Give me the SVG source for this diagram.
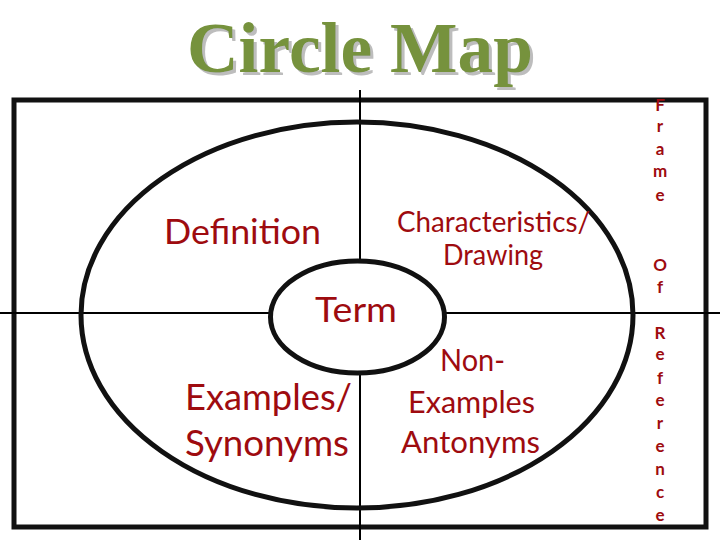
<svg xmlns="http://www.w3.org/2000/svg" width="720" height="540" viewBox="0 0 720 540">
<defs>
<filter id="shadow" x="-5%" y="-20%" width="115%" height="150%">
<feDropShadow dx="3" dy="3" stdDeviation="0.6" flood-color="#bdbdbd" flood-opacity="1"/>
</filter>
</defs>
<style>
.lbl{font-family:Lato,"Open Sans","Liberation Sans",sans-serif;fill:#9e0b0f;}
.side{font-family:Lato,"Open Sans","Liberation Sans",sans-serif;fill:#9e0b0f;font-weight:bold;font-size:17px;text-anchor:middle;}
.ring{fill:none;stroke:#111;stroke-width:5;}
.axis{stroke:#000;stroke-width:2;fill:none;}
.title{font-family:"Liberation Serif","Times New Roman",serif;font-weight:bold;font-size:72px;}
</style>
<rect width="720" height="540" fill="#ffffff"/>
<g id="title">
<text class="title" x="187" y="72" fill="#76923c" filter="url(#shadow)" textLength="346" lengthAdjust="spacingAndGlyphs">Circle Map</text>
</g>
<g id="frame">
<rect x="14" y="100" width="692" height="427" fill="none" stroke="#111" stroke-width="5"/>
</g>
<g id="connectors">
<line class="axis" x1="360" y1="90" x2="360" y2="540"/>
<line class="axis" x1="0" y1="313" x2="720" y2="313"/>
</g>
<g id="outer-circle">
<ellipse class="ring" cx="357" cy="315" rx="276" ry="193"/>
</g>
<g id="term">
<ellipse cx="357.5" cy="317" rx="87" ry="56" fill="#ffffff" stroke="#111" stroke-width="5"/>
<text class="lbl" x="315" y="322" font-size="35" textLength="82" lengthAdjust="spacingAndGlyphs">Term</text>
</g>
<g id="definition">
<text class="lbl" x="164" y="244" font-size="35" textLength="157" lengthAdjust="spacingAndGlyphs">Definition</text>
</g>
<g id="characteristics">
<text class="lbl" x="397" y="232" font-size="28" textLength="193" lengthAdjust="spacingAndGlyphs">Characteristics/</text>
<text class="lbl" x="443" y="265" font-size="28" textLength="100" lengthAdjust="spacingAndGlyphs">Drawing</text>
</g>
<g id="examples">
<text class="lbl" x="185" y="410" font-size="36" textLength="167" lengthAdjust="spacingAndGlyphs">Examples/</text>
<text class="lbl" x="185" y="456" font-size="36" textLength="164" lengthAdjust="spacingAndGlyphs">Synonyms</text>
</g>
<g id="non-examples">
<text class="lbl" x="440" y="371" font-size="31" textLength="65" lengthAdjust="spacingAndGlyphs">Non-</text>
<text class="lbl" x="408" y="413" font-size="31" textLength="127" lengthAdjust="spacingAndGlyphs">Examples</text>
<text class="lbl" x="401" y="453" font-size="31" textLength="139" lengthAdjust="spacingAndGlyphs">Antonyms</text>
</g>
<g id="frame-of-reference">
<text class="side" x="660" y="111">F</text>
<text class="side" x="660" y="132">r</text>
<text class="side" x="660" y="155">a</text>
<text class="side" x="660" y="177">m</text>
<text class="side" x="660" y="201">e</text>
<text class="side" x="660" y="271">O</text>
<text class="side" x="660" y="293">f</text>
<text class="side" x="660" y="339">R</text>
<text class="side" x="660" y="360">e</text>
<text class="side" x="660" y="384">f</text>
<text class="side" x="660" y="406">e</text>
<text class="side" x="660" y="429">r</text>
<text class="side" x="660" y="452">e</text>
<text class="side" x="660" y="475">n</text>
<text class="side" x="660" y="498">c</text>
<text class="side" x="660" y="521">e</text>
</g>
</svg>
